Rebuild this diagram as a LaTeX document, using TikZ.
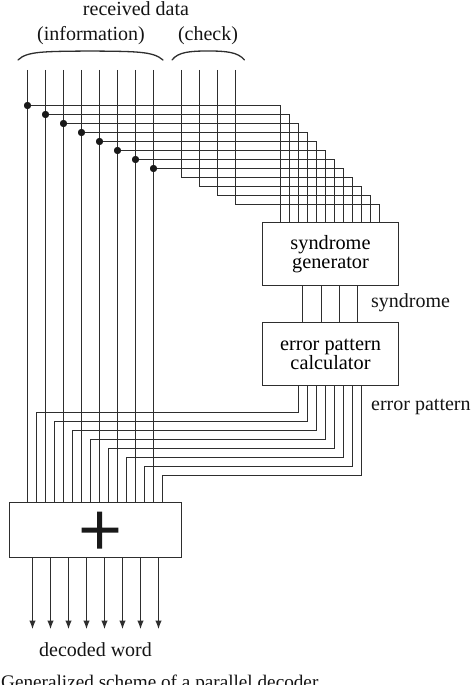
\documentclass[tikz,border=0pt]{standalone}
\usepackage{fontspec}
\setmainfont{Liberation Serif}
\usetikzlibrary{arrows.meta}
\definecolor{ink}{HTML}{2E2E2E}
\tikzset{
  wire/.style={draw=ink,line width=1.5pt},
  box/.style={draw=ink,line width=1.5pt,fill=white,inner sep=0pt,align=center,font=\fontsize{20.3}{18.8}\selectfont},
  lab/.style={inner sep=0pt,font=\fontsize{20}{22}\selectfont,text=black!92},
  junction/.style={circle,fill=black!90,inner sep=0pt,minimum size=7pt},
  brace/.style={draw=ink,line width=1.3pt,line cap=round},
  outarrow/.style={draw=ink,line width=1.5pt,-{Latex[length=9pt,width=6.5pt]}}
}
\begin{document}
\begin{tikzpicture}[x=1pt,y=-1pt]
\useasboundingbox (0,0) rectangle (474,685);
\clip (0,0) rectangle (474,685);
% labels
\node[lab] (rd) at (136,8.5) {received data};
\node[lab] (inf) at (91,35.5) {(information)};
\node[lab] (chk) at (208,35.5) {(check)};
% braces
\draw[brace] (18,60) .. controls (27,51) and (45,51.5) .. (90,51) .. controls (135,51.5) and (153,51) .. (163,60);
\draw[brace] (172,60) .. controls (178,52) and (190,51) .. (208,51) .. controls (226,51) and (238,52) .. (244.5,60);
% boxes
\node[box,minimum width=136pt,minimum height=63pt] (syn) at (330.5,254) {syndrome\\generator};
\node[box,minimum width=136pt,minimum height=63pt] (epc) at (330.5,354) {error pattern\\calculator};
\node[box,minimum width=172pt,minimum height=55pt] (add) at (95.5,530) {};
\fill[black!90] (81.7,527.5) rectangle (118.3,532.5) (97.2,511.5) rectangle (102.2,548.5);
\node[lab] (synlab) at (371,303) [anchor=west] {syndrome};
\node[lab] (errlab) at (371,407) [anchor=west] {error pattern};
\node[lab] (dec) at (95.5,650) {decoded word};
\node[lab,anchor=base west,font=\fontsize{19.2}{20}\selectfont] (cap) at (1,688.5) {Generalized scheme of a parallel decoder};
% information lines with tap-offs, check lines
\foreach \i/\xx in {0/27.5,1/45.5,2/63.5,3/81.5,4/99.5,5/117.5,6/135.5,7/153.5}{
  \pgfmathsetmacro{\yy}{105.5+9*\i}
  \pgfmathsetmacro{\rr}{280.5+9*\i}
  \coordinate (top\i) at (\xx,70);
  \node[junction] (j\i) at (\xx,\yy) {};
  \coordinate (r\i) at (\rr,0);
  \draw[wire] (top\i) -- (top\i |- add.north);
  \draw[wire] (j\i.center) -| (r\i |- syn.north);
  \node[junction] at (j\i) {};
}
\foreach \k/\xx in {8/181.5,9/199.5,10/217.5,11/235.5}{
  \pgfmathsetmacro{\yy}{105.5+9*\k}
  \pgfmathsetmacro{\rr}{280.5+9*\k}
  \coordinate (ctop\k) at (\xx,70);
  \coordinate (r\k) at (\rr,0);
  \coordinate (cturn\k) at (\xx,\yy);
  \draw[wire] (ctop\k) -- (cturn\k) -| (r\k |- syn.north);
}
% syndrome lines
\foreach \xx in {302.5,321.5,339.5,357.5}
  \draw[wire] (\xx,0 |- syn.south) -- (\xx,0 |- epc.north);
% error pattern lines
\foreach \i/\lx in {0/36.5,1/54.5,2/72.5,3/90.5,4/108.5,5/126.5,6/144.5,7/162.5}{
  \pgfmathsetmacro{\rx}{298.5+9*\i}
  \pgfmathsetmacro{\hy}{412.5+9*\i}
  \coordinate (e\i) at (\rx,0);
  \coordinate (l\i) at (\lx,0);
  \coordinate (h\i) at (\rx,\hy);
  \draw[wire] (e\i |- epc.south) -- (h\i) -- (h\i -| l\i) -- (l\i |- add.north);
}
% output arrows
\foreach \i/\xx in {0/32.5,1/50.5,2/68.5,3/86.5,4/104.5,5/122.5,6/140.5,7/158.5}{
  \coordinate (o\i) at (\xx,629.5);
  \draw[outarrow] (o\i |- add.south) -- (o\i);
}
\end{tikzpicture}
\end{document}
